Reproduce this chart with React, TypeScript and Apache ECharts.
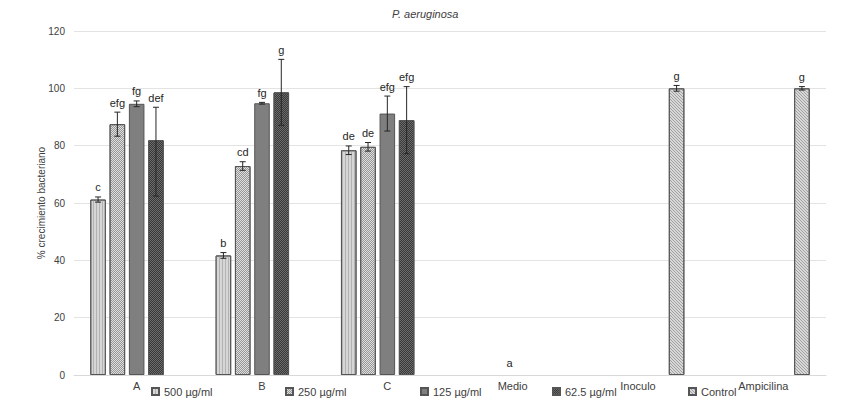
import React, { useEffect, useRef } from 'react';
import * as echarts from 'echarts';

const categories = ['A', 'B', 'C', 'Medio', 'Inoculo', 'Ampicilina'];
const seriesNames = ['500 µg/ml', '250 µg/ml', '125 µg/ml', '62.5 µg/ml', 'Control'];
const yTicks = [0, 20, 40, 60, 80, 100, 120];

// mean values (% crecimiento bacteriano)
const v500 = [61.2, 41.7, 78.4, null, null, null];
const v250 = [87.5, 72.9, 79.6, null, null, null];
const v125 = [94.6, 94.8, 91.2, 0, null, null];
const v62 = [81.9, 98.6, 88.9, null, null, null];
const vCtrl = [null, null, null, null, 100, 100];

// error bars (upper / lower)
const up500 = [0.9, 1.0, 1.5, 0, 0, 0];
const dn500 = [0.9, 1.0, 1.5, 0, 0, 0];
const up250 = [4.2, 1.5, 1.5, 0, 0, 0];
const dn250 = [4.2, 1.5, 1.5, 0, 0, 0];
const up125 = [1.0, 0.3, 6.1, 0, 0, 0];
const dn125 = [1.0, 0.3, 6.1, 0, 0, 0];
const up62 = [11.5, 11.5, 11.7, 0, 0, 0];
const dn62 = [19.5, 11.5, 11.7, 0, 0, 0];
const upCtrl = [0, 0, 0, 0, 1.0, 0.6];
const dnCtrl = [0, 0, 0, 0, 1.0, 0.6];

// significance letters
const l500 = ['c', 'b', 'de', '', '', ''];
const l250 = ['efg', 'cd', 'de', '', '', ''];
const l125 = ['fg', 'fg', 'efg', 'a', '', ''];
const l62 = ['def', 'g', 'efg', '', '', ''];
const lCtrl = ['', '', '', '', 'g', 'g'];

const values = [v500, v250, v125, v62, vCtrl];
const ups = [up500, up250, up125, up62, upCtrl];
const dns = [dn500, dn250, dn125, dn62, dnCtrl];
const letters = [l500, l250, l125, l62, lCtrl];

const FONT = '"Liberation Sans", Arial, sans-serif';
const TXT = '#404040';
const BAR_GAP = 0.24;
const CAT_GAP = 0.26;
const N = seriesNames.length;

const baseColors = ['#d6d6d6', '#dedede', '#7f7f7f', '#6c6c6c', '#d8d8d8'];
const decals: any[] = [
  { symbol: 'rect', symbolSize: 1, color: '#b2b2b2', dashArrayX: [1, 2], dashArrayY: [4, 0] },
  { symbol: 'rect', symbolSize: 1, color: '#979797', dashArrayX: [[1, 1], [0, 1, 1, 0]], dashArrayY: [1, 0] },
  null,
  { symbol: 'rect', symbolSize: 1, color: '#383838', dashArrayX: [[1, 1], [0, 1, 1, 0]], dashArrayY: [1, 0] },
  { symbol: 'rect', symbolSize: 1, color: '#a0a0a0', dashArrayX: [[1, 2], [0, 1, 1, 1], [0, 2, 1, 0]], dashArrayY: [1, 0] },
];
const legendLefts = [151, 285, 420, 552, 688];

export default function App() {
  const ref = useRef<HTMLDivElement>(null);
  useEffect(() => {
    if (!ref.current) return;
    const chart = echarts.init(ref.current, undefined, { renderer: 'svg' });

    const errData: any[] = [];
    const errLetters: string[] = [];
    values.forEach((vals, s) => {
      vals.forEach((v, c) => {
        if (v === null) return;
        errData.push([c, v, ups[s][c], dns[s][c], s]);
        errLetters.push(letters[s][c]);
      });
    });

    const barSeries = seriesNames.map((name, s) => ({
      type: 'bar',
      name,
      data: values[s].map((v) => (v === 0 ? null : v)),
      barGap: BAR_GAP * 100 + '%',
      barCategoryGap: CAT_GAP * 100 + '%',
      itemStyle: {
        color: baseColors[s],
        borderColor: '#555555',
        borderWidth: 1,
        ...(decals[s] ? { decal: decals[s] } : {}),
      },
    }));

    const option: any = {
      animation: false,
      title: {
        text: 'P. aeruginosa',
        left: 392,
        top: 8,
        padding: 0,
        textStyle: { fontSize: 11, fontStyle: 'italic', fontWeight: 'normal', color: TXT, fontFamily: FONT },
      },
      legend: seriesNames.map((name, s) => ({
        data: [name],
        left: legendLefts[s],
        top: 386,
        padding: 0,
        itemWidth: 7,
        itemHeight: 7,
        icon: 'rect',
        selectedMode: false,
        textStyle: { fontSize: 11, color: TXT, fontFamily: FONT },
      })),
      grid: { left: 74, right: 18, top: 31, bottom: 39, containLabel: false },
      xAxis: {
        type: 'category',
        data: categories,
        axisTick: { show: false },
        axisLine: { show: true, lineStyle: { color: '#d9d9d9', width: 1 } },
        axisLabel: { fontSize: 11, color: TXT, fontFamily: FONT, margin: 5 },
      },
      yAxis: {
        type: 'value',
        min: 0,
        max: yTicks[yTicks.length - 1],
        interval: yTicks[1] - yTicks[0],
        name: '% crecimiento bacteriano',
        nameLocation: 'middle',
        nameRotate: 90,
        nameGap: 28,
        nameMoveOverlap: false,
        nameTextStyle: { fontSize: 10, color: TXT, fontFamily: FONT },
        axisLine: { show: false },
        axisTick: { show: false },
        axisLabel: { fontSize: 10, color: TXT, fontFamily: FONT, margin: 9 },
        splitLine: { lineStyle: { color: '#e3e3e3', width: 1 } },
      },
      series: [
        ...barSeries,
        {
          type: 'custom',
          name: 'err',
          data: errData,
          encode: { x: 0, y: 1 },
          z: 10,
          renderItem: (params: any, api: any) => {
            const cat = api.value(0);
            const val = api.value(1);
            const up = api.value(2);
            const dn = api.value(3);
            const slot = api.value(4);
            const band = api.size([1, 0])[0];
            const bw = (band * (1 - CAT_GAP)) / (N + (N - 1) * BAR_GAP);
            const off = (slot - (N - 1) / 2) * bw * (1 + BAR_GAP);
            const base = api.coord([cat, val]);
            const x = base[0] + off;
            const yTop = api.coord([cat, val + up])[1];
            const yBot = api.coord([cat, val - dn])[1];
            const children: any[] = [];
            const ls = { stroke: '#262626', lineWidth: 1 };
            if (up > 0 || dn > 0) {
              children.push({ type: 'line', shape: { x1: x, y1: yTop, x2: x, y2: yBot }, style: ls });
              children.push({ type: 'line', shape: { x1: x - 3, y1: yTop, x2: x + 3, y2: yTop }, style: ls });
              children.push({ type: 'line', shape: { x1: x - 3, y1: yBot, x2: x + 3, y2: yBot }, style: ls });
            }
            const txt = errLetters[params.dataIndex];
            if (txt) {
              children.push({
                type: 'text',
                style: {
                  text: txt,
                  x: val === 0 ? x - 3 : x,
                  y: val === 0 ? yTop - 7 : yTop - 4,
                  align: 'center',
                  verticalAlign: 'bottom',
                  textAlign: 'center',
                  textVerticalAlign: 'bottom',
                  fontSize: 11,
                  fontFamily: FONT,
                  fill: '#262626',
                },
              });
            }
            return { type: 'group', children };
          },
        },
      ],
    };
    chart.setOption(option);
    return () => chart.dispose();
  }, []);

  return (
    <div
      ref={ref}
      style={{ position: 'absolute', left: 0, top: 0, width: 844, height: 414, background: '#ffffff' }}
    />
  );
}
